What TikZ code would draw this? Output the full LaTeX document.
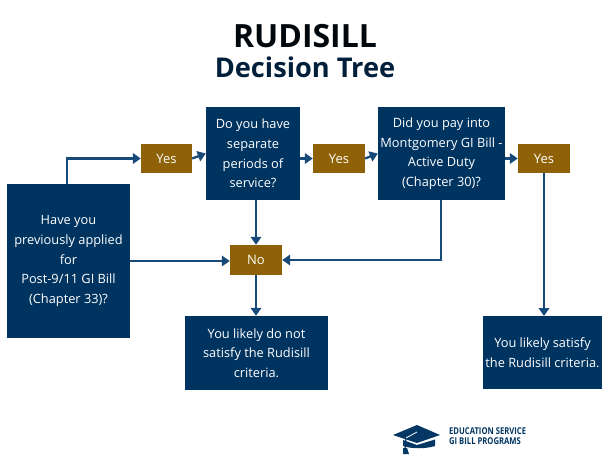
\documentclass[tikz,border=0pt]{standalone}
\usepackage{fontspec}
\setmainfont{Open Sans}
\usetikzlibrary{arrows.meta,calc}
\definecolor{navy}{HTML}{003460}
\definecolor{brownbox}{HTML}{8F6207}
\definecolor{linkblue}{HTML}{174A78}
\tikzset{
  box/.style={fill=navy,text=white,inner sep=0pt,align=center,font=\fontsize{12.8}{19.6}\selectfont},
  tag/.style={fill=brownbox,text=white,inner sep=0pt,align=center,font=\fontsize{13}{16}\selectfont},
  link/.style={draw=linkblue,line width=2.3pt,-{Triangle[length=8pt,width=10.5pt]}},
}
\newcommand{\boxat}[7]{\node[#1,minimum width=#5pt-#3pt,minimum height=#6pt-#4pt] (#2) at ({(#3+#5)/2},{(#4+#6)/2}) {#7};}
\begin{document}
\begin{tikzpicture}[x=1pt,y=-1pt]
\useasboundingbox (0,0) rectangle (609,457);
\node[font=\bfseries\fontsize{32}{34}\selectfont,text=black!85!navy,inner sep=0pt] (title) at (305,36) {RUDISILL};
\node[font=\bfseries\fontsize{27.2}{28}\selectfont,text=navy!60!black,inner sep=0pt] (subtitle) at (305,67.5) {Decision Tree};
\boxat{box}{q0}{7}{184}{130}{338}{Have you\\previously applied\\for\\Post-9/11 GI Bill\\(Chapter 33)?}
\boxat{box}{q1}{206}{107}{300}{200}{Do you have\\separate\\periods of\\service?}
\boxat{box}{q2}{378}{107}{505}{200}{Did you pay into\\Montgomery GI Bill -\\Active Duty\\(Chapter 30)?}
\boxat{tag}{y1}{141}{144}{192}{173}{Yes}
\boxat{tag}{y2}{313}{144}{365}{173}{Yes}
\boxat{tag}{y3}{518}{144}{570}{173}{Yes}
\boxat{tag}{no}{230}{245}{282}{275}{No}
\boxat{box}{r1}{185}{316}{328}{390}{You likely do not\\satisfy the Rudisill\\criteria.}
\boxat{box}{r2}{483}{316}{602}{389}{You likely satisfy\\the Rudisill criteria.}
\coordinate (q0up) at (67,184);
\coordinate (q0side) at (130,261);
\coordinate (q2down) at (441,200);
\coordinate (q1down) at (256,200);
\coordinate (y3down) at (544,173);
\coordinate (r2up) at (544,316);
\draw[link] (q0up) |- (y1.west);
\draw[link] (y1.east) -- (q1.west);
\draw[link] (q1.east |- y2.west) -- (y2.west);
\draw[link] (y2.east) -- (q2.west);
\draw[link] (q2.east |- y3.west) -- (y3.west);
\draw[link] (q1down) -- (no.north);
\draw[link] (q0side) -- (no.west |- q0side);
\draw[link] (q2down) |- (no.east);
\draw[link] (no.south) -- (r1.north -| no.south);
\draw[link] (y3down) -- (r2up);
% logo
\fill[navy!85!linkblue] (393,435) -- (417,425) -- (440,435) -- (417,443) -- cycle;
\fill[navy!85!linkblue] (403,440) -- (417,445) -- (435,439.5) -- (435,446) .. controls (425,449) and (412,449) .. (403,446) -- cycle;
\draw[white,line width=0.8pt] (417,432) -- (406,438);
\draw[navy!85!linkblue,line width=1.2pt] (406,438) -- (405,449);
\fill[navy!85!linkblue] (403,448) -- (407,448) -- (409,454) -- (403,454) -- cycle;
\node[anchor=west,inner sep=0pt,font=\bfseries\fontsize{9.4}{10}\selectfont,text=navy,xscale=0.815] (logoa) at (449,431.5) {EDUCATION SERVICE};
\node[anchor=west,inner sep=0pt,font=\bfseries\fontsize{9.4}{10}\selectfont,text=navy,xscale=0.815] (logob) at (449,441.5) {GI BILL PROGRAMS};
\end{tikzpicture}
\end{document}
